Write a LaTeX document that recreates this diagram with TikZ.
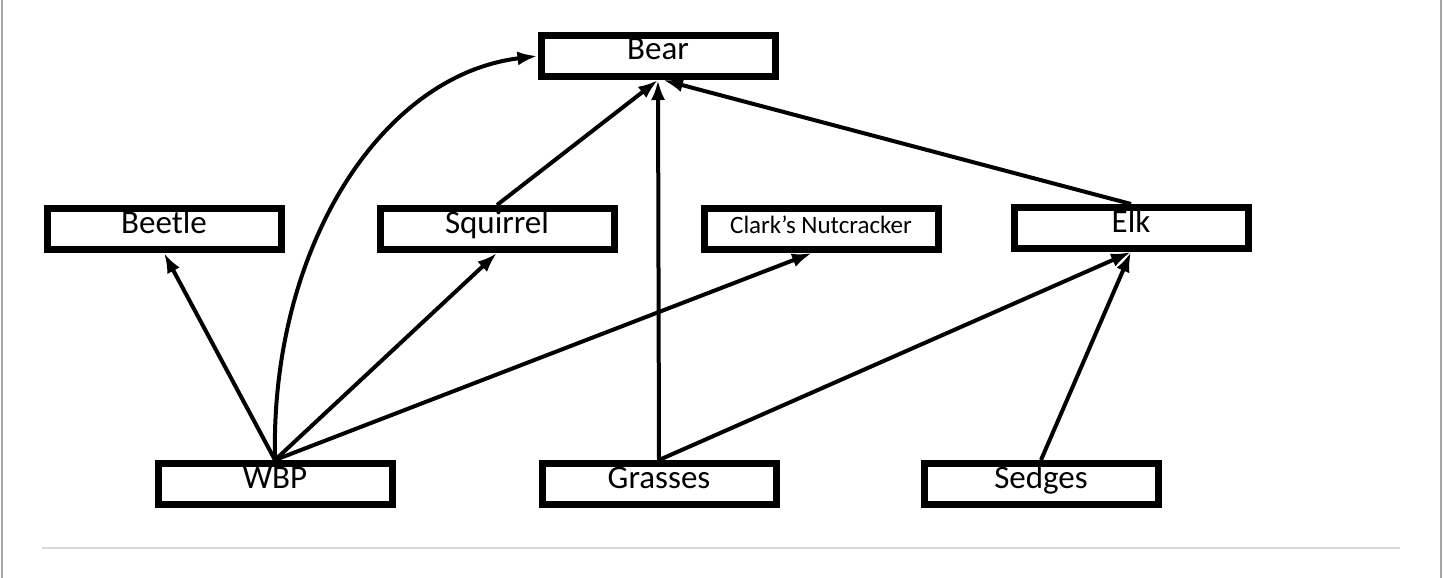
\documentclass[tikz,border=0pt]{standalone}
\usepackage{fontspec}
\setmainfont{Carlito}
\usetikzlibrary{arrows.meta}
\begin{document}
\begin{tikzpicture}[x=1pt,y=-1pt,
  box/.style={draw,line width=7pt,minimum width=234pt,minimum height=41pt,inner sep=0pt,text height=18pt,text depth=10pt,font=\fontsize{33}{36}\selectfont,fill=white},
  arr/.style={line width=4pt,-{Latex[length=20pt,width=14pt]}}]
\useasboundingbox (0,0) rectangle (1444,578);
\draw[gray!70,line width=2pt] (2,0) -- (2,578) (1441,0) -- (1441,578);
\draw[gray!30,line width=2pt] (42,548) -- (1400,548);
\node[box] (bear) at (658,56) {Bear};
\node[box] (beetle) at (164,229) {Beetle};
\node[box] (squirrel) at (497,229) {Squirrel};
\node[box,font=\fontsize{25}{27}\selectfont] (clark) at (821,229) {Clark’s Nutcracker};
\node[box] (elk) at (1131,228) {Elk};
\node[box] (wbp) at (275,484) {WBP};
\node[box] (grasses) at (659,484) {Grasses};
\node[box] (sedges) at (1041,484) {Sedges};
\draw[arr] (wbp.north) -- (beetle.south);
\draw[arr] (wbp.north) -- (squirrel.south);
\draw[arr] (wbp.north) -- ([xshift=-9pt]clark.south);
\draw[arr] (wbp.north) .. controls (270,250) and (380,75) .. (bear.west);
\draw[arr] (squirrel.north) -- (bear.south);
\draw[arr] (grasses.north) -- (bear.south);
\draw[arr] (elk.north) -- ([xshift=5pt]bear.south);
\draw[arr] (grasses.north) -- (elk.south);
\draw[arr] (sedges.north) -- (elk.south);
\end{tikzpicture}
\end{document}
